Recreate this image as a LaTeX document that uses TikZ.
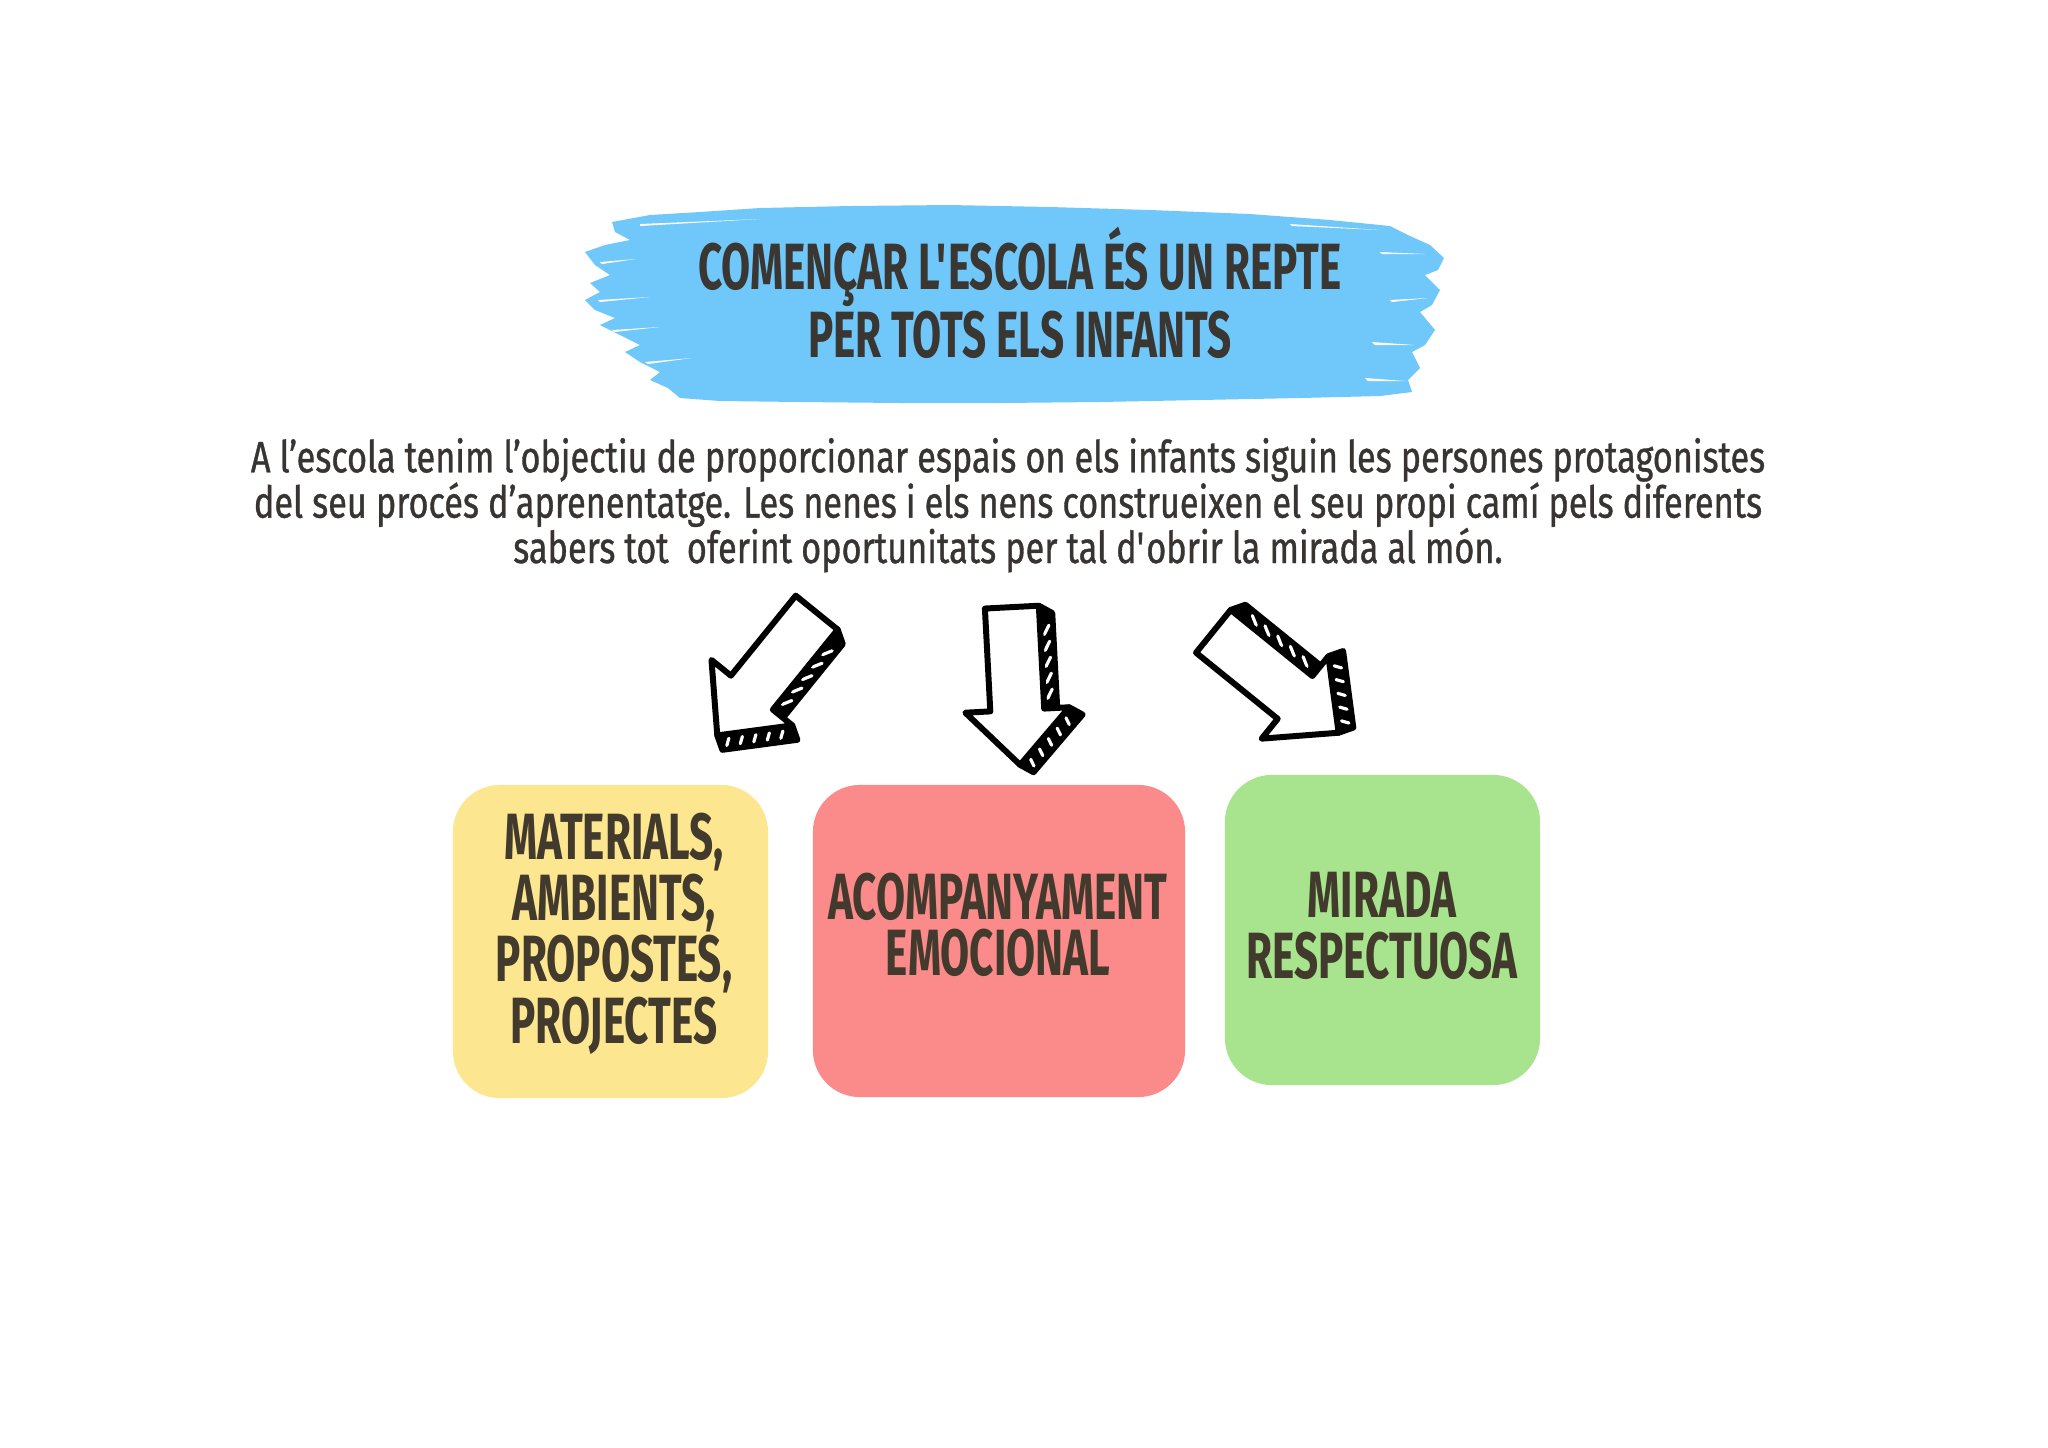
\documentclass[tikz,border=0pt]{standalone}
\usepackage{fontspec}
\setmainfont{Fira Sans}
\newfontfamily\headfont{Fira Sans}[FakeStretch=0.645]
\newfontfamily\parafont{Fira Sans}[FakeStretch=0.78,FakeBold=0.8]
\definecolor{brushblue}{RGB}{112,199,250}
\definecolor{titleink}{RGB}{58,54,50}
\definecolor{boxink}{RGB}{66,58,44}
\definecolor{paraink}{RGB}{55,52,50}
\definecolor{yellowbox}{RGB}{252,230,143}
\definecolor{redbox}{RGB}{251,138,138}
\definecolor{greenbox}{RGB}{168,227,141}
\newcommand\sketcharrow[4]{%
  \begin{scope}[shift={(#1,#2)},rotate=#3,scale=#4]
    % side faces (hatched)
    \filldraw[arrline,fill=black] (27,79) -- (40,71) -- (40,-32) -- (27,-24) -- cycle;
    \filldraw[arrline,fill=black] (52,-24) -- (65,-32) -- (13,-87) -- (0,-79) -- cycle;
    \foreach \v in {-14,2,...,62}{
      \draw[white,line width=0.9pt,line cap=round] (31,\v) -- (36,\v+9);
    }
    \foreach \t in {0.15,0.33,...,0.9}{
      \draw[white,line width=0.9pt,line cap=round]
        ({52-52*\t+4},{-24-55*\t-2}) -- ({52-52*\t+7},{-24-55*\t-9});
    }
    % front face
    \filldraw[arrline,fill=white] (-27,79) -- (27,79) -- (27,-24) -- (52,-24)
      -- (0,-79) -- (-52,-24) -- (-27,-24) -- cycle;
  \end{scope}}
\begin{document}
\begin{tikzpicture}[x=0.01cm,y=0.01cm,
  arrline/.style={line width=1.7pt,line join=round,draw=black},
  titletext/.style={text=titleink,align=center,inner sep=0pt,
    font=\headfont\bfseries\fontsize{18.6}{17.07}\selectfont},
  paratext/.style={text=paraink,align=center,inner sep=0pt,
    font=\parafont\fontsize{12.5}{12.9}\selectfont},
  boxtext/.style={text=boxink,align=center,inner sep=0pt},
  roundbox/.style={rounded corners=0.47cm,inner sep=0pt}]
\useasboundingbox (0,0) rectangle (2048,-1447);
\fill[white] (0,0) rectangle (2048,-1447);

% brush stroke
\fill[brushblue] (612,-222) -- (650,-215) -- (700,-212) -- (760,-208) -- (850,-206)
  -- (950,-205) -- (1050,-207) -- (1150,-210) -- (1250,-214) -- (1330,-220)
  -- (1390,-226) -- (1410,-236) -- (1430,-245) -- (1444,-258) -- (1438,-270)
  -- (1425,-275) -- (1440,-290) -- (1432,-305) -- (1420,-312) -- (1435,-330)
  -- (1425,-345) -- (1412,-352) -- (1420,-368) -- (1408,-380) -- (1412,-392)
  -- (1380,-396) -- (1300,-398) -- (1200,-400) -- (1100,-402) -- (1000,-403)
  -- (900,-403) -- (800,-402) -- (720,-401) -- (680,-398) -- (668,-388)
  -- (650,-380) -- (660,-372) -- (640,-362) -- (625,-352) -- (640,-345)
  -- (620,-335) -- (600,-325) -- (615,-318) -- (595,-310) -- (585,-300)
  -- (600,-292) -- (590,-283) -- (610,-275) -- (595,-265) -- (585,-252)
  -- (605,-245) -- (630,-240) -- (615,-232) -- cycle;
\fill[white] (640,-224) -- (760,-219) -- (640,-226) -- cycle;
\fill[white] (598,-300) -- (650,-297) -- (600,-302) -- cycle;
\fill[white] (612,-330) -- (660,-327) -- (614,-332) -- cycle;
\fill[white] (645,-362) -- (692,-358) -- (648,-364) -- cycle;
\fill[white] (600,-262) -- (636,-259) -- (602,-264) -- cycle;
\fill[white] (1380,-252) -- (1425,-254) -- (1382,-254) -- cycle;
\fill[white] (1390,-300) -- (1428,-298) -- (1392,-302) -- cycle;
\fill[white] (1372,-342) -- (1414,-345) -- (1375,-345) -- cycle;
\fill[white] (1365,-378) -- (1405,-381) -- (1368,-381) -- cycle;
\fill[white] (1290,-224) -- (1380,-230) -- (1292,-226) -- cycle;

\node[titletext,anchor=base] (title) at (1020,-357)
  {COMENÇAR L\kern-0.06em\textquotesingle\kern-0.06em ESCOLA ÉS UN REPTE\\PER TOTS ELS INFANTS};

\node[paratext,anchor=base] (para) at (1008,-563)
  {A l’escola tenim l’objectiu de proporcionar espais on els infants siguin les persones protagonistes\\
   del seu procés d’aprenentatge. Les nenes i els nens construeixen el seu propi camí pels diferents\\
   sabers tot\ \ oferint oportunitats per tal d\textquotesingle obrir la mirada al món.};

% arrows
\sketcharrow{767}{-674}{-39}{1}
\sketcharrow{1016}{-686}{3}{1}
\sketcharrow{1276}{-682}{51}{1.02}

% boxes
\node[roundbox,fill=yellowbox,minimum width=3.15cm,minimum height=3.13cm] (boxA) at (610.5,-941.5) {};
\node[roundbox,fill=redbox,minimum width=3.72cm,minimum height=3.12cm] (boxB) at (999,-941) {};
\node[roundbox,fill=greenbox,minimum width=3.15cm,minimum height=3.10cm] (boxC) at (1382.5,-930) {};

\node[boxtext,anchor=base,font=\headfont\bfseries\fontsize{18.6}{17.36}\selectfont] (textA) at (614,-1043)
  {MATERIALS,\\AMBIENTS,\\PROPOSTES,\\PROJECTES};
\node[boxtext,anchor=base,font=\headfont\bfseries\fontsize{18.6}{15.65}\selectfont] (textB) at (998,-975)
  {ACOMPANYAMENT\\EMOCIONAL};
\node[boxtext,anchor=base,font=\headfont\bfseries\fontsize{18.6}{17.07}\selectfont] (textC) at (1382,-978)
  {MIRADA\\RESPECTUOSA};
\end{tikzpicture}
\end{document}
